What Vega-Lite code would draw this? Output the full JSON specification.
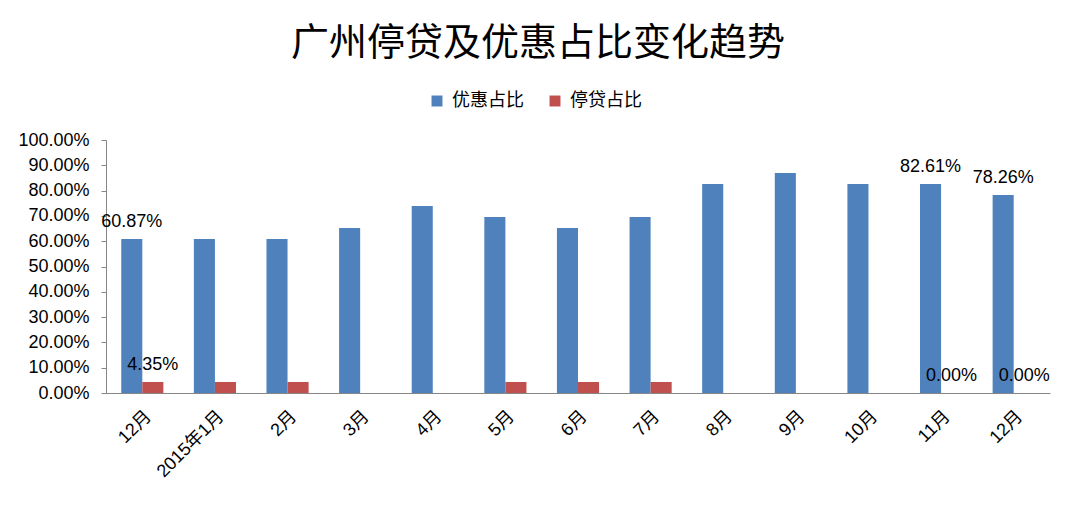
{
  "$schema": "https://vega.github.io/schema/vega-lite/v6.json",
  "width": 944,
  "height": 253,
  "autosize": {"type": "none"},
  "padding": {"left": 106, "top": 140, "right": 25, "bottom": 114},
  "background": "white",
  "title": {
    "text": "广州停贷及优惠占比变化趋势",
    "fontSize": 38,
    "fontWeight": "normal",
    "font": "Noto Sans CJK SC",
    "color": "#000000",
    "anchor": "middle",
    "frame": "group",
    "dx": -40,
    "offset": 29
  },
  "config": {
    "view": {"stroke": null},
    "font": "Liberation Sans",
    "axis": {"labelFont": "Liberation Sans, Noto Sans CJK SC", "labelFontSize": 18, "labelColor": "#000000", "domainColor": "#868686", "tickColor": "#868686", "grid": false, "title": null, "labelOverlap": false}
  },
  "data": {
    "values": [
      {"idx": 0, "series": "优惠占比", "value": 0.6087, "show": true},
      {"idx": 0, "series": "停贷占比", "value": 0.0435, "show": true},
      {"idx": 1, "series": "优惠占比", "value": 0.6087, "show": false},
      {"idx": 1, "series": "停贷占比", "value": 0.0435, "show": false},
      {"idx": 2, "series": "优惠占比", "value": 0.6087, "show": false},
      {"idx": 2, "series": "停贷占比", "value": 0.0435, "show": false},
      {"idx": 3, "series": "优惠占比", "value": 0.6522, "show": false},
      {"idx": 3, "series": "停贷占比", "value": 0.0, "show": false},
      {"idx": 4, "series": "优惠占比", "value": 0.7391, "show": false},
      {"idx": 4, "series": "停贷占比", "value": 0.0, "show": false},
      {"idx": 5, "series": "优惠占比", "value": 0.6957, "show": false},
      {"idx": 5, "series": "停贷占比", "value": 0.0435, "show": false},
      {"idx": 6, "series": "优惠占比", "value": 0.6522, "show": false},
      {"idx": 6, "series": "停贷占比", "value": 0.0435, "show": false},
      {"idx": 7, "series": "优惠占比", "value": 0.6957, "show": false},
      {"idx": 7, "series": "停贷占比", "value": 0.0435, "show": false},
      {"idx": 8, "series": "优惠占比", "value": 0.8261, "show": false},
      {"idx": 8, "series": "停贷占比", "value": 0.0, "show": false},
      {"idx": 9, "series": "优惠占比", "value": 0.8696, "show": false},
      {"idx": 9, "series": "停贷占比", "value": 0.0, "show": false},
      {"idx": 10, "series": "优惠占比", "value": 0.8261, "show": false},
      {"idx": 10, "series": "停贷占比", "value": 0.0, "show": false},
      {"idx": 11, "series": "优惠占比", "value": 0.8261, "show": true},
      {"idx": 11, "series": "停贷占比", "value": 0.0, "show": true},
      {"idx": 12, "series": "优惠占比", "value": 0.7826, "show": true},
      {"idx": 12, "series": "停贷占比", "value": 0.0, "show": true}
    ]
  },
  "encoding": {
    "x": {
      "field": "idx",
      "type": "ordinal",
      "scale": {"paddingInner": 0.42, "paddingOuter": 0.21},
      "axis": {
        "labelAngle": -45,
        "ticks": false,
        "labelPadding": 14,
        "labelExpr": "['12月','2015年1月','2月','3月','4月','5月','6月','7月','8月','9月','10月','11月','12月'][datum.value]"
      }
    },
    "xOffset": {"field": "series", "type": "nominal", "sort": ["优惠占比", "停贷占比"]},
    "y": {
      "field": "value",
      "type": "quantitative",
      "scale": {"domain": [0, 1]},
      "axis": {"format": ".2%", "values": [0, 0.1, 0.2, 0.3, 0.4, 0.5, 0.6, 0.7, 0.8, 0.9, 1.0], "tickSize": 5, "labelPadding": 12, "labelBaseline": "middle"}
    }
  },
  "layer": [
    {
      "mark": {"type": "bar"},
      "encoding": {
        "color": {
          "field": "series",
          "type": "nominal",
          "sort": ["优惠占比", "停贷占比"],
          "scale": {"domain": ["优惠占比", "停贷占比"], "range": ["#4F81BD", "#C0504D"]},
          "legend": {
            "title": null,
            "orient": "none",
            "direction": "horizontal",
            "legendX": 322,
            "legendY": -48,
            "symbolType": "square",
            "symbolSize": 120,
            "symbolStrokeWidth": 0,
            "labelFont": "Noto Sans CJK SC",
            "labelFontSize": 18,
            "labelColor": "#000000",
            "columnPadding": 22,
            "labelOffset": 6
          }
        }
      }
    },
    {
      "transform": [{"filter": "datum.show"}],
      "mark": {"type": "text", "baseline": "bottom", "dy": -8, "fontSize": 18, "font": "Liberation Sans", "color": "#000000"},
      "encoding": {
        "text": {"field": "value", "type": "quantitative", "format": ".2%"}
      }
    }
  ]
}
